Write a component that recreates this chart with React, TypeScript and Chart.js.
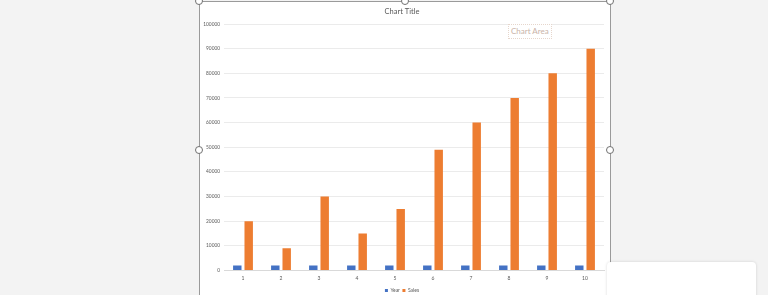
import React, { useEffect, useRef } from "react";
import { Chart, registerables } from "chart.js";

Chart.register(...registerables);

const categories = ["1", "2", "3", "4", "5", "6", "7", "8", "9", "10"];
const yearValues = [2010, 2011, 2012, 2013, 2014, 2015, 2016, 2017, 2018, 2019];
const salesValues = [20000, 9000, 30000, 15000, 25000, 49000, 60000, 70000, 80000, 90000];
const seriesNames = ["Year", "Sales"];
const chartTitle = "Chart Title";
const yMax = 100000;
const yStep = 10000;

const FONT = "Lato, 'Open Sans', sans-serif";

function ChartCanvas() {
  const ref = useRef<HTMLCanvasElement | null>(null);
  useEffect(() => {
    if (!ref.current) return;
    const chart = new Chart(ref.current, {
      type: "bar",
      data: {
        labels: categories,
        datasets: [
          {
            label: seriesNames[0],
            data: yearValues,
            backgroundColor: "#4472C4",
            categoryPercentage: 0.6,
            barPercentage: 0.74,
          },
          {
            label: seriesNames[1],
            data: salesValues,
            backgroundColor: "#ED7D31",
            categoryPercentage: 0.6,
            barPercentage: 0.74,
          },
        ],
      },
      options: {
        animation: false,
        responsive: false,
        maintainAspectRatio: false,
        layout: { padding: { left: 0, right: 6, top: 0, bottom: 0 } },
        plugins: {
          tooltip: { enabled: false },
          title: {
            display: true,
            text: chartTitle,
            color: "#595959",
            font: { family: FONT, size: 7.5, weight: "normal" },
            padding: { top: 5.5, bottom: 7.5 },
          },
          legend: {
            position: "bottom",
            labels: {
              color: "#595959",
              font: { family: FONT, size: 5 },
              boxWidth: 3,
              boxHeight: 3,
              padding: 2.5,
            },
          },
        },
        scales: {
          x: {
            grid: { display: false, drawTicks: false },
            border: { display: true, color: "#d9d9d9" },
            ticks: {
              color: "#595959",
              font: { family: FONT, size: 5 },
              padding: 5,
              maxRotation: 0,
            },
            afterFit: (s: any) => {
              s.height = 15;
            },
          },
          y: {
            min: 0,
            max: yMax,
            grid: { color: "#ebebeb", drawTicks: false },
            border: { display: false },
            ticks: {
              stepSize: yStep,
              color: "#595959",
              font: { family: FONT, size: 4.8 },
              padding: 4,
              callback: (v: any) => String(v),
            },
            afterFit: (s: any) => {
              s.width = 24;
            },
          },
        },
      },
    });
    return () => chart.destroy();
  }, []);
  return <canvas ref={ref} width={410} height={301} style={{ display: "block" }} />;
}

function Handle({ x, y }: { x: number; y: number }) {
  return (
    <div
      style={{
        position: "absolute",
        left: x - 4,
        top: y - 4,
        width: 6,
        height: 6,
        borderRadius: "50%",
        background: "#fff",
        border: "1.3px solid #707070",
      }}
    />
  );
}

export default function App() {
  useEffect(() => {
    document.body.style.margin = "0";
  }, []);
  return (
    <div
      style={{
        position: "relative",
        width: 768,
        height: 295,
        background: "#f3f3f3",
        overflow: "hidden",
      }}
    >
      <div
        style={{
          position: "absolute",
          left: 199,
          top: 1,
          width: 410,
          height: 320,
          background: "#fff",
          border: "1px solid #9a9a9a",
        }}
      >
        <ChartCanvas />
      </div>
      <div
        style={{
          position: "absolute",
          left: 508,
          top: 24,
          padding: "1px 2px",
          fontFamily: FONT,
          fontSize: 8,
          color: "#c9b3a8",
          background: "#fff",
          border: "1px dotted #e6d6cc",
          lineHeight: "11px",
        }}
      >
        Chart Area
      </div>
      <div
        style={{
          position: "absolute",
          left: 607,
          top: 262,
          width: 149,
          height: 60,
          background: "#fff",
          borderRadius: 4,
          boxShadow: "0 0 3px rgba(0,0,0,0.15)",
        }}
      />
      <Handle x={199} y={1} />
      <Handle x={405} y={1} />
      <Handle x={610} y={1} />
      <Handle x={199} y={150} />
      <Handle x={610} y={150} />
    </div>
  );
}
